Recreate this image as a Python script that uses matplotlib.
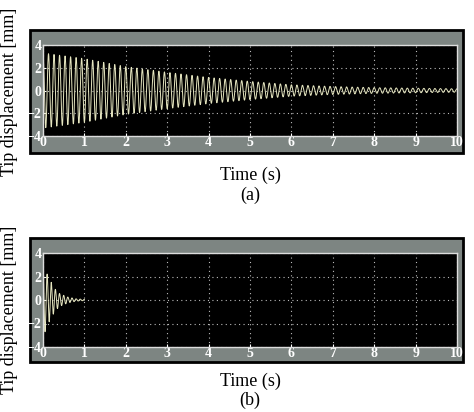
import numpy as np
import matplotlib
matplotlib.use("Agg")
import matplotlib.pyplot as plt
from matplotlib.patches import Rectangle

# Envelope values
env_t_a = [0, 1, 2, 3, 4, 5, 6, 7, 8, 9, 10]
env_a = [3.3, 2.8, 2.1, 1.6, 1.15, 0.8, 0.5, 0.35, 0.25, 0.2, 0.15]
freq_a = 7.5  # Hz, counted cycles
env_t_b = [0, 0.1, 0.2, 0.3, 0.4, 0.6, 0.8, 1.0]
env_b = [3.2, 2.2, 1.5, 0.9, 0.55, 0.25, 0.1, 0.05]
freq_b = 10.0
xticks = list(range(0, 11))
yticks = [-4, -2, 0, 2, 4]

W, H = 474, 412
fig = plt.figure(figsize=(W/100, H/100), dpi=100)
plt.rcParams['font.family'] = ['Liberation Serif', 'DejaVu Serif']

def panel(frame, axbox, env_t, env, f, tend, label, lbl_y, sub_y, ylab_y):
    x0, y0, x1, y1 = frame
    fig.patches.append(Rectangle((x0/W, 1-y1/H), (x1-x0)/W, (y1-y0)/H,
                                 transform=fig.transFigure, facecolor='#7d8582',
                                 edgecolor='black', linewidth=2, zorder=-10))
    a0, b0, a1, b1 = axbox
    ax = fig.add_axes([a0/W, 1-b1/H, (a1-a0)/W, (b1-b0)/H])
    ax.set_zorder(5)
    ax.set_facecolor('black')
    t = np.linspace(0, tend, 6000)
    e = np.interp(t, env_t, env)
    ax.plot(t, e*np.cos(2*np.pi*f*t), color='#e6e6c0', lw=0.7)
    ax.set_xlim(0, 10); ax.set_ylim(-4, 4)
    ax.set_xticks(xticks); ax.set_yticks(yticks)
    ax.tick_params(colors='white', labelcolor='white', labelsize=10, length=2,
                   direction='in')
    ax.tick_params(axis='x', pad=0)
    ax.tick_params(axis='y', pad=1)
    for lab in ax.get_yticklabels() + ax.get_xticklabels():
        lab.set_fontweight('bold')
    ax.grid(True, color='#bbbbbb', ls=(0, (1, 3)), lw=0.8)
    for s in ax.spines.values():
        s.set_color('#dddddd'); s.set_linewidth(1)
    fig.text(250/W, 1-lbl_y/H, 'Time (s)', ha='center', va='center', fontsize=13)
    fig.text(250/W, 1-sub_y/H, label, ha='center', va='center', fontsize=13)
    fig.text(10/W, 1-ylab_y/H, 'Tip displacement [mm]', rotation=90,
             ha='center', va='center', fontsize=13)

panel((30, 30, 463, 153), (43, 45, 457, 136), env_t_a, env_a, freq_a, 10,
      '(a)', 175, 195, 92)
panel((30, 238, 463, 362), (43, 253, 457, 347), env_t_b, env_b, freq_b, 1.0,
      '(b)', 381, 400, 310)

fig.savefig('out.png', dpi=100)
